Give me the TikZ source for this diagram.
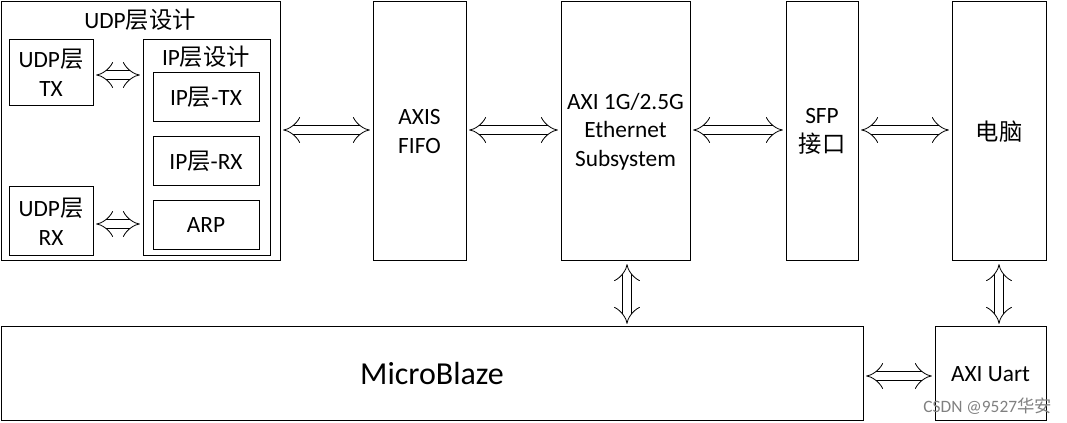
\documentclass[tikz,border=0pt]{standalone}
\usepackage{fontspec}
\setmainfont{Carlito}
\newfontfamily\cjk{Noto Sans CJK SC}
\usetikzlibrary{arrows.meta}
\begin{document}
\begin{tikzpicture}[x=0.75pt,y=-0.75pt,
  bx/.style={draw,line width=0.75pt,inner sep=0,align=center,font=\fontsize{17.5}{21.5}\selectfont},
  dar/.style={draw=black,double=white,double distance=6.5pt,line width=0.6pt,
    {Implies[length=9pt,width=15pt]}-{Implies[length=9pt,width=15pt]},shorten <=2pt,shorten >=2pt}]
\useasboundingbox (0,0) rectangle (1067,423);
\def\B#1#2#3#4#5#6{\node[bx,minimum width=#4*0.75pt-#2*0.75pt,minimum height=#5*0.75pt-#3*0.75pt] (#1) at ({(#2+#4)/2},{(#3+#5)/2}) {#6};}
\B{udp}{1}{2}{280}{261}{}
\node[font=\fontsize{17.5}{21.5}\selectfont] (udpt) at (140,20) {UDP{\cjk 层设计}};
\B{utx}{9}{40}{93}{106}{UDP{\cjk 层}\\TX}
\B{urx}{9}{187}{93}{256}{UDP{\cjk 层}\\RX}
\B{ip}{143}{40}{270}{256}{}
\node[font=\fontsize{17.5}{21.5}\selectfont] (ipt) at (206,57) {IP{\cjk 层设计}};
\B{iptx}{153}{73}{259}{122}{IP{\cjk 层}-TX}
\B{iprx}{153}{137}{259}{186}{IP{\cjk 层}-RX}
\B{arp}{153}{201}{259}{250}{ARP}
\B{fifo}{373}{2}{466}{261}{AXIS\\FIFO}
\B{eth}{561}{2}{690}{261}{AXI 1G/2.5G\\Ethernet\\Subsystem}
\B{sfp}{786}{2}{858}{261}{SFP\\{\cjk 接口}}
\B{pc}{952}{2}{1046}{261}{{\cjk 电脑}}
\B{mb}{1}{327}{863}{421}{\fontsize{24}{29}\selectfont MicroBlaze}
\B{uart}{935}{327}{1046}{421}{AXI Uart}
\node[text=gray,font=\fontsize{13}{15}\selectfont,anchor=east,inner sep=0] (wm) at (1052,406) {CSDN @9527{\cjk 华安}};
\coordinate (a1) at (utx.east |- 0,75); \coordinate (a2) at (ip.west |- 0,75);
\draw[dar] (a1) -- (a2);
\coordinate (b1) at (urx.east |- 0,224); \coordinate (b2) at (ip.west |- 0,224);
\draw[dar] (b1) -- (b2);
\coordinate (c1) at (udp.east |- 0,130); \coordinate (c2) at (fifo.west |- 0,130);
\draw[dar] (c1) -- (c2);
\coordinate (d1) at (fifo.east |- 0,130); \coordinate (d2) at (eth.west |- 0,130);
\draw[dar] (d1) -- (d2);
\coordinate (e1) at (eth.east |- 0,130); \coordinate (e2) at (sfp.west |- 0,130);
\draw[dar] (e1) -- (e2);
\coordinate (f1) at (sfp.east |- 0,130); \coordinate (f2) at (pc.west |- 0,130);
\draw[dar] (f1) -- (f2);
\coordinate (g1) at (627,0 |- eth.south); \coordinate (g2) at (627,0 |- mb.north);
\draw[dar] (g1) -- (g2);
\coordinate (h1) at (999,0 |- pc.south); \coordinate (h2) at (999,0 |- uart.north);
\draw[dar] (h1) -- (h2);
\coordinate (k1) at (mb.east |- 0,376); \coordinate (k2) at (uart.west |- 0,376);
\draw[dar] (k1) -- (k2);
\end{tikzpicture}
\end{document}
